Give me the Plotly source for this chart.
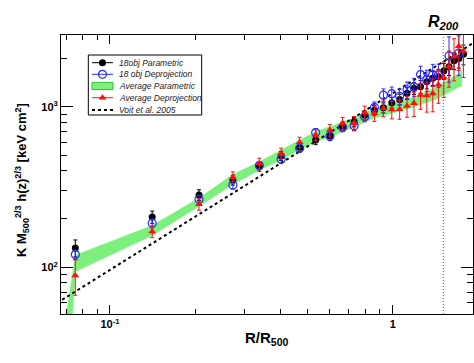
import numpy as np
import plotly.graph_objects as go

# ---------------- data ----------------
r_bins = [0.0754, 0.141, 0.2065, 0.272, 0.3375, 0.403, 0.4685, 0.534, 0.5995, 0.665,
          0.7305, 0.796, 0.8615, 0.927, 0.9925, 1.058, 1.1235, 1.189, 1.2545, 1.32,
          1.3855, 1.451, 1.5165, 1.582, 1.6475, 1.713, 1.7785]

param18 = [132, 206, 282, 350, 425, 495, 560, 620, 660, 750,
           805, 885, 950, 985, 1060, 1110, 1212, 1302, 1332, 1431,
           1503, 1537, 1670, 1773, 1930, 1999, 2120]
param18_err = [16, 18, 22, 25, 28, 32, 36, 40, 45, 50,
               55, 60, 65, 70, 80, 85, 100, 110, 120, 140,
               150, 170, 190, 210, 230, 260, 300]

deproj18 = [120, 188, 265, 325, 430, 470, 551, 690, 655, 744,
            760, 866, 990, 1180, 1205, 1160, 1275, 1330, 1585, 1466,
            1585, 1580, None, 2070, None, 2160, None]
deproj18_err = [8, 12, 15, 18, 22, 25, 30, 40, 40, 45,
                50, 60, 80, 110, 120, 130, 150, 170, 200, 220,
                250, 260, 0, 650, 0, 600, 0]

avg_deproj = [89, 167, 247, 363, 443, 512, 600, 666, 716, 788,
              788, 918, 910, 977, 960, 965, 1010, 1050, 1183, 1175,
              1210, 1370, 1520, 1773, 2050, 2380, 2220]
avg_deproj_err = [22, 14, 20, 30, 35, 40, 45, 50, 60, 70,
                  80, 90, 100, 110, 120, 130, 150, 180, 220, 250,
                  280, 320, 380, 450, 600, 700, 700]

band_r = [0.070, 0.0754, 0.141, 0.2065, 0.272, 0.3375, 0.403, 0.4685, 0.534, 0.5995,
          0.665, 0.7305, 0.796, 0.8615, 0.927, 0.9925, 1.058, 1.1235, 1.189, 1.2545,
          1.32, 1.3855, 1.451, 1.5165, 1.582, 1.6475, 1.713, 1.754]
band_high = [50, 119, 182, 270, 378, 454, 537, 620, 699, 751,
             800, 850, 920, 970, 1010, 1050, 1080, 1115, 1149, 1190,
             1240, 1290, 1345, 1410, 1480, 1550, 1614, 1650]
band_low = [12, 94, 158, 240, 328, 403, 466, 540, 605, 647,
            697, 747, 800, 850, 880, 910, 940, 968, 996, 1030,
            1060, 1095, 1133, 1180, 1230, 1280, 1326, 1350]

voit_r = [0.065, 1.95]
voit_k = [60, 2526]

r200 = 1.51

x_range = [0.0671, 1.923]
y_range = [51.2, 2795]

x_tick_vals = [0.1, 1]
x_tick_text = ["<b>10<sup>-1</sup></b>", "<b>1</b>"]
x_minor_vals = [0.07, 0.08, 0.09, 0.2, 0.3, 0.4, 0.5, 0.6, 0.7, 0.8, 0.9]
y_tick_vals = [100, 1000]
y_tick_text = ["<b>10<sup>2</sup></b>", "<b>10<sup>3</sup></b>"]
y_minor_vals = [60, 70, 80, 90, 200, 300, 400, 500, 600, 700, 800, 900, 2000]

legend_labels = ["18obj Parametric", "18 obj Deprojection", "Average Parametric",
                 "Average Deprojection", "Voit et al. 2005"]

# ---------------- figure ----------------
GREEN = "#7cf07c"
BLUE = "#2a2aff"
RED = "#ff1010"

fig = go.Figure()

# green band (average parametric)
fig.add_trace(go.Scatter(
    x=list(band_r) + list(band_r)[::-1],
    y=list(band_high) + list(band_low)[::-1],
    fill="toself", fillcolor=GREEN, mode="lines",
    line=dict(color=GREEN, width=0.5), showlegend=False, hoverinfo="skip"))

# Voit et al. 2005 baseline
fig.add_trace(go.Scatter(x=voit_r, y=voit_k, mode="lines",
                         line=dict(color="black", width=2, dash="3px,3px"),
                         showlegend=False))

# R200 vertical dotted line
fig.add_trace(go.Scatter(x=[r200, r200], y=y_range, mode="lines",
                         line=dict(color="#55557a", width=1, dash="1px,2px"),
                         showlegend=False))

# 18 obj parametric
fig.add_trace(go.Scatter(
    x=r_bins, y=param18, mode="markers",
    marker=dict(symbol="circle", size=7, color="black"),
    error_y=dict(type="data", array=param18_err, color="black", thickness=1, width=2),
    showlegend=False))

# 18 obj deprojection
fig.add_trace(go.Scatter(
    x=r_bins, y=deproj18, mode="markers",
    marker=dict(symbol="circle-open", size=8, color=BLUE, line=dict(width=1.2, color=BLUE)),
    error_y=dict(type="data", array=deproj18_err, color=BLUE, thickness=1, width=2),
    showlegend=False))

# average deprojection
fig.add_trace(go.Scatter(
    x=r_bins, y=avg_deproj, mode="markers",
    marker=dict(symbol="triangle-up", size=7, color=RED),
    error_y=dict(type="data", array=avg_deproj_err, color=RED, thickness=1, width=2),
    showlegend=False))

# ---------------- manual legend (ROOT-style box) ----------------
leg_y = [0.9007, 0.8591, 0.8172, 0.7753, 0.7312]
lx0, lx1, lxc = 0.0752, 0.1262, 0.1007
fig.add_shape(type="rect", xref="paper", yref="paper", x0=0.0663, x1=0.3415,
              y0=0.7133, y1=0.9283, line=dict(color="black", width=1),
              fillcolor="white", layer="below")
fig.add_trace(go.Scatter(x=[lx0, lx1], y=[leg_y[0]] * 2, mode="lines", xaxis="x2", yaxis="y2",
                         line=dict(color="black", width=1), showlegend=False, hoverinfo="skip"))
fig.add_trace(go.Scatter(x=[lxc], y=[leg_y[0]], mode="markers", xaxis="x2", yaxis="y2",
                         marker=dict(symbol="circle", size=7, color="black"),
                         showlegend=False, hoverinfo="skip"))
fig.add_trace(go.Scatter(x=[lx0, lx1], y=[leg_y[1]] * 2, mode="lines", xaxis="x2", yaxis="y2",
                         line=dict(color=BLUE, width=1), showlegend=False, hoverinfo="skip"))
fig.add_trace(go.Scatter(x=[lxc], y=[leg_y[1]], mode="markers", xaxis="x2", yaxis="y2",
                         marker=dict(symbol="circle-open", size=8, color=BLUE,
                                     line=dict(width=1.2, color=BLUE)),
                         showlegend=False, hoverinfo="skip"))
fig.add_shape(type="rect", xref="paper", yref="paper", x0=lx0, x1=lx1,
              y0=leg_y[2] - 0.013, y1=leg_y[2] + 0.013,
              line=dict(color="#33bb33", width=1), fillcolor=GREEN)
fig.add_trace(go.Scatter(x=[lx0, lx1], y=[leg_y[3]] * 2, mode="lines", xaxis="x2", yaxis="y2",
                         line=dict(color=RED, width=1), showlegend=False, hoverinfo="skip"))
fig.add_trace(go.Scatter(x=[lxc], y=[leg_y[3]], mode="markers", xaxis="x2", yaxis="y2",
                         marker=dict(symbol="triangle-up", size=7, color=RED),
                         showlegend=False, hoverinfo="skip"))
fig.add_trace(go.Scatter(x=[lx0, lx1], y=[leg_y[4]] * 2, mode="lines", xaxis="x2", yaxis="y2",
                         line=dict(color="black", width=2, dash="3px,3px"),
                         showlegend=False, hoverinfo="skip"))

annotations = []
for lab, yy in zip(legend_labels, leg_y):
    annotations.append(dict(x=0.1352, y=yy, xref="paper", yref="paper", text="<i>%s</i>" % lab,
                            showarrow=False, xanchor="left", yanchor="middle",
                            font=dict(size=8.5, color="#222222", family="Liberation Sans")))

annotations.append(dict(x=0.5, y=-0.045, xref="paper", yref="paper",
                        text="<b>R/R<sub>500</sub></b>", showarrow=False,
                        xanchor="center", yanchor="top",
                        font=dict(size=15, color="black", family="Liberation Sans")))
annotations.append(dict(x=-0.0947, y=0.48, xref="paper", yref="paper", textangle=-90,
                        text="<b>K M<sub>500</sub><sup>2/3</sup> h(z)<sup>2/3</sup> [keV cm<sup>2</sup>]</b>",
                        showarrow=False, xanchor="center", yanchor="middle",
                        font=dict(size=13, color="black", family="Liberation Sans")))
annotations.append(dict(x=np.log10(r200), y=1.0, xref="x", yref="paper", yshift=1,
                        text="<b><i>R</i></b><sub><b><i>200</i></b></sub>", showarrow=False,
                        xanchor="center", yanchor="bottom",
                        font=dict(size=16, color="black", family="Liberation Sans")))

axis_common = dict(showline=True, linecolor="black", linewidth=1, mirror="ticks",
                   ticks="inside", tickcolor="black", showgrid=False, zeroline=False,
                   automargin=False,
                   tickfont=dict(size=11, color="black", family="Liberation Sans"))

fig.update_layout(
    width=474, height=363,
    margin=dict(l=61, r=1, t=35, b=49, autoexpand=False),
    paper_bgcolor="white", plot_bgcolor="white",
    showlegend=False,
    xaxis=dict(type="log", range=[np.log10(x_range[0]), np.log10(x_range[1])],
               tickmode="array", tickvals=x_tick_vals, ticktext=x_tick_text, ticklen=9,
               minor=dict(tickmode="array", tickvals=x_minor_vals, ticks="inside",
                          ticklen=5, tickcolor="black", showgrid=False),
               **axis_common),
    yaxis=dict(type="log", range=[np.log10(y_range[0]), np.log10(y_range[1])],
               tickmode="array", tickvals=y_tick_vals, ticktext=y_tick_text, ticklen=12,
               minor=dict(tickmode="array", tickvals=y_minor_vals, ticks="inside",
                          ticklen=6, tickcolor="black", showgrid=False),
               **axis_common),
    xaxis2=dict(overlaying="x", range=[0, 1], visible=False, fixedrange=True),
    yaxis2=dict(overlaying="y", range=[0, 1], visible=False, fixedrange=True),
    annotations=annotations,
)

fig.write_html("out.html",
               config={"displayModeBar": False, "staticPlot": True},
               post_script="document.body.style.margin='0px';document.body.style.overflow='hidden';")
